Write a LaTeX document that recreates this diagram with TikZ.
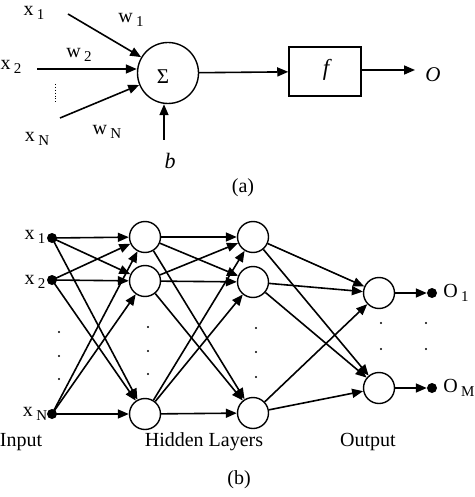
\documentclass[tikz,border=0pt]{standalone}
\usepackage{fontspec}
\setmainfont{Liberation Serif}
\usetikzlibrary{arrows.meta}
\newcommand{\lsub}[1]{\,\raisebox{-0.5ex}{\fontsize{15}{15}\selectfont #1}}
\begin{document}
\begin{tikzpicture}[x=1pt,y=-1pt,
  every node/.style={font=\fontsize{20}{24}\selectfont, inner sep=0pt},
  arr/.style={-{Triangle[length=11pt,width=9pt]}, line width=1.6pt},
  neuron/.style={circle, draw, line width=1.4pt, minimum size=31pt, inner sep=0pt},
  sumnode/.style={circle, draw, line width=1.4pt, minimum size=61pt, inner sep=0pt},
  fbox/.style={rectangle, draw, line width=1.5pt, minimum width=72pt, minimum height=49pt},
  dotnode/.style={circle, fill, minimum size=10pt, inner sep=0pt},
  smalldot/.style={fill=black}]
\useasboundingbox (0,0) rectangle (474,497);

% ---------- (a) single neuron ----------
\node[sumnode] (S) at (168,73) {};
\node[font=\fontsize{21}{21}\selectfont] (sig) at (163,77) {Σ};
\node[fbox] (F) at (325,71.5) {};
\node[font=\fontsize{23}{23}\selectfont\itshape] (fl) at (326,70) {f};
\coordinate (a1) at (68,14);
\coordinate (a2) at (37,69);
\coordinate (aN) at (60,118);
\coordinate (b0) at (164,140);
\coordinate (o) at (415,70);
\draw[arr] (a1) -- (S);
\draw[arr] (a2) -- (a2 -| S.west);
\draw[arr] (aN) -- (S);
\draw[arr] (b0) -- (b0 |- S.south);
\draw[arr] (S) -- (F);
\draw[arr] (F.east |- o) -- (o);
\draw[line width=0.9pt, dotted] (55,84) -- (55,103);

\node (lx1) at (34,13) {x\lsub{1}};
\node (lx2) at (11,67) {x\lsub{2}};
\node (lxN) at (37,139) {x\lsub{N}};
\node (lw1) at (131,20) {w\lsub{1}};
\node (lw2) at (79,55) {w\lsub{2}};
\node (lwN) at (107,132) {w\lsub{N}};
\node[font=\fontsize{22}{22}\selectfont\itshape] (lb) at (170,161) {b};
\node[font=\fontsize{21}{21}\selectfont\itshape] (lo) at (433,75) {O};
\node (la) at (243,188) {(a)};

% ---------- (b) network ----------
\node[dotnode] (i1) at (52,238) {};
\node[dotnode] (i2) at (52,280) {};
\node[dotnode] (iN) at (52,414) {};
\node[neuron] (h11) at (145,237) {};
\node[neuron] (h12) at (145,281) {};
\node[neuron] (h1N) at (145,414) {};
\node[neuron] (h21) at (253,237) {};
\node[neuron] (h22) at (253,282) {};
\node[neuron] (h2N) at (253,413) {};
\node[neuron] (y1) at (379,293) {};
\node[neuron] (yM) at (379,388) {};
\node[dotnode] (d1) at (432,293) {};
\node[dotnode] (dM) at (432,388) {};

\foreach \a in {i1,i2,iN}
  \foreach \b in {h11,h12,h1N}
    \draw[arr] (\a.center) -- (\b);
\foreach \a in {h11,h12,h1N}
  \foreach \b in {h21,h22,h2N}
    \draw[arr] (\a) -- (\b);
\foreach \a in {h21,h22,h2N}
  \foreach \b in {y1,yM}
    \draw[arr] (\a) -- (\b);
\draw[arr] (y1) -- (d1);
\draw[arr] (yM) -- (dM);

% vertical ellipsis dots
\foreach \p in {(59,332),(59,356),(59,379),
                (148,327),(148,351),(148,374),
                (256,328),(256,352),(256,377),
                (381,323),(381,349),(426,323),(426,349)}
  \fill[smalldot] \p circle (1.2pt);

\node (bx1) at (35,237) {x\lsub{1}};
\node (bx2) at (35,282) {x\lsub{2}};
\node (bxN) at (35,414) {x\lsub{N}};
\node (bo1) at (456,293) {O\lsub{1}};
\node (boM) at (459,388) {O\lsub{M}};
\node (tin) at (21,442) {Input};
\node (thid) at (204,442) {Hidden Layers};
\node (tout) at (368,442) {Output};
\node (tb) at (239,480) {(b)};
\end{tikzpicture}
\end{document}
